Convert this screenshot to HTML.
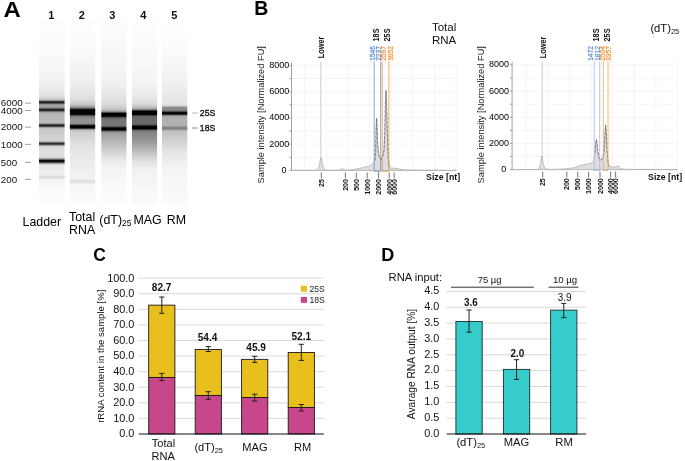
<!DOCTYPE html>
<html><head><meta charset="utf-8"><title>Figure</title>
<style>
html,body{margin:0;padding:0;background:#fff;}
body{width:685px;height:461px;overflow:hidden;}
svg{display:block;font-family:"Liberation Sans", Arial, sans-serif;}
</style></head><body>
<svg width="685" height="461" viewBox="0 0 685 461">
<defs>
<filter id="soft" x="-10%" y="-2%" width="120%" height="104%"><feGaussianBlur stdDeviation="0.45"/></filter>
<linearGradient id="lg0" gradientUnits="userSpaceOnUse" x1="0" y1="18.0" x2="0" y2="204.0"><stop offset="0.00%" stop-color="rgb(254,254,254)"/><stop offset="17.34%" stop-color="rgb(251,251,251)"/><stop offset="34.01%" stop-color="rgb(242,242,242)"/><stop offset="41.53%" stop-color="rgb(226,226,226)"/><stop offset="43.28%" stop-color="rgb(210,210,210)"/><stop offset="43.68%" stop-color="rgb(201,201,201)"/><stop offset="43.95%" stop-color="rgb(187,187,187)"/><stop offset="44.09%" stop-color="rgb(177,177,177)"/><stop offset="44.22%" stop-color="rgb(163,163,163)"/><stop offset="44.35%" stop-color="rgb(146,146,146)"/><stop offset="44.62%" stop-color="rgb(105,105,105)"/><stop offset="44.89%" stop-color="rgb(63,63,63)"/><stop offset="45.03%" stop-color="rgb(47,47,47)"/><stop offset="45.16%" stop-color="rgb(35,35,35)"/><stop offset="45.30%" stop-color="rgb(30,30,30)"/><stop offset="45.43%" stop-color="rgb(32,32,32)"/><stop offset="45.56%" stop-color="rgb(40,40,40)"/><stop offset="45.70%" stop-color="rgb(54,54,54)"/><stop offset="46.24%" stop-color="rgb(122,122,122)"/><stop offset="46.37%" stop-color="rgb(136,136,136)"/><stop offset="46.51%" stop-color="rgb(146,146,146)"/><stop offset="46.64%" stop-color="rgb(154,154,154)"/><stop offset="46.91%" stop-color="rgb(161,161,161)"/><stop offset="47.58%" stop-color="rgb(162,162,162)"/><stop offset="47.85%" stop-color="rgb(158,158,158)"/><stop offset="48.12%" stop-color="rgb(148,148,148)"/><stop offset="48.25%" stop-color="rgb(139,139,139)"/><stop offset="48.39%" stop-color="rgb(128,128,128)"/><stop offset="48.66%" stop-color="rgb(97,97,97)"/><stop offset="48.92%" stop-color="rgb(63,63,63)"/><stop offset="49.06%" stop-color="rgb(47,47,47)"/><stop offset="49.19%" stop-color="rgb(35,35,35)"/><stop offset="49.33%" stop-color="rgb(29,29,29)"/><stop offset="49.46%" stop-color="rgb(28,28,28)"/><stop offset="49.60%" stop-color="rgb(34,34,34)"/><stop offset="49.73%" stop-color="rgb(45,45,45)"/><stop offset="49.87%" stop-color="rgb(61,61,61)"/><stop offset="50.27%" stop-color="rgb(116,116,116)"/><stop offset="50.40%" stop-color="rgb(132,132,132)"/><stop offset="50.54%" stop-color="rgb(146,146,146)"/><stop offset="50.67%" stop-color="rgb(157,157,157)"/><stop offset="50.94%" stop-color="rgb(171,171,171)"/><stop offset="51.21%" stop-color="rgb(178,178,178)"/><stop offset="52.02%" stop-color="rgb(182,182,182)"/><stop offset="55.91%" stop-color="rgb(188,188,188)"/><stop offset="56.18%" stop-color="rgb(184,184,184)"/><stop offset="56.45%" stop-color="rgb(173,173,173)"/><stop offset="56.59%" stop-color="rgb(164,164,164)"/><stop offset="56.72%" stop-color="rgb(151,151,151)"/><stop offset="56.85%" stop-color="rgb(136,136,136)"/><stop offset="57.12%" stop-color="rgb(97,97,97)"/><stop offset="57.39%" stop-color="rgb(57,57,57)"/><stop offset="57.53%" stop-color="rgb(41,41,41)"/><stop offset="57.66%" stop-color="rgb(31,31,31)"/><stop offset="57.80%" stop-color="rgb(28,28,28)"/><stop offset="57.93%" stop-color="rgb(31,31,31)"/><stop offset="58.06%" stop-color="rgb(42,42,42)"/><stop offset="58.20%" stop-color="rgb(58,58,58)"/><stop offset="58.74%" stop-color="rgb(141,141,141)"/><stop offset="58.87%" stop-color="rgb(157,157,157)"/><stop offset="59.01%" stop-color="rgb(171,171,171)"/><stop offset="59.14%" stop-color="rgb(182,182,182)"/><stop offset="59.41%" stop-color="rgb(194,194,194)"/><stop offset="59.81%" stop-color="rgb(201,201,201)"/><stop offset="65.59%" stop-color="rgb(212,212,212)"/><stop offset="65.99%" stop-color="rgb(207,207,207)"/><stop offset="66.13%" stop-color="rgb(202,202,202)"/><stop offset="66.26%" stop-color="rgb(194,194,194)"/><stop offset="66.40%" stop-color="rgb(184,184,184)"/><stop offset="66.53%" stop-color="rgb(170,170,170)"/><stop offset="66.67%" stop-color="rgb(153,153,153)"/><stop offset="67.20%" stop-color="rgb(71,71,71)"/><stop offset="67.34%" stop-color="rgb(55,55,55)"/><stop offset="67.47%" stop-color="rgb(46,46,46)"/><stop offset="67.61%" stop-color="rgb(44,44,44)"/><stop offset="67.74%" stop-color="rgb(49,49,49)"/><stop offset="67.88%" stop-color="rgb(61,61,61)"/><stop offset="68.01%" stop-color="rgb(78,78,78)"/><stop offset="68.41%" stop-color="rgb(143,143,143)"/><stop offset="68.55%" stop-color="rgb(162,162,162)"/><stop offset="68.68%" stop-color="rgb(178,178,178)"/><stop offset="68.82%" stop-color="rgb(191,191,191)"/><stop offset="68.95%" stop-color="rgb(201,201,201)"/><stop offset="69.22%" stop-color="rgb(213,213,213)"/><stop offset="69.62%" stop-color="rgb(219,219,219)"/><stop offset="72.98%" stop-color="rgb(223,223,223)"/><stop offset="74.33%" stop-color="rgb(222,222,222)"/><stop offset="74.73%" stop-color="rgb(217,217,217)"/><stop offset="75.00%" stop-color="rgb(209,209,209)"/><stop offset="75.27%" stop-color="rgb(194,194,194)"/><stop offset="75.40%" stop-color="rgb(183,183,183)"/><stop offset="75.54%" stop-color="rgb(170,170,170)"/><stop offset="75.67%" stop-color="rgb(154,154,154)"/><stop offset="75.94%" stop-color="rgb(115,115,115)"/><stop offset="76.34%" stop-color="rgb(51,51,51)"/><stop offset="76.48%" stop-color="rgb(32,32,32)"/><stop offset="76.61%" stop-color="rgb(17,17,17)"/><stop offset="76.75%" stop-color="rgb(6,6,6)"/><stop offset="76.88%" stop-color="rgb(0,0,0)"/><stop offset="77.02%" stop-color="rgb(1,1,1)"/><stop offset="77.15%" stop-color="rgb(8,8,8)"/><stop offset="77.28%" stop-color="rgb(19,19,19)"/><stop offset="77.42%" stop-color="rgb(36,36,36)"/><stop offset="77.69%" stop-color="rgb(78,78,78)"/><stop offset="78.09%" stop-color="rgb(144,144,144)"/><stop offset="78.23%" stop-color="rgb(163,163,163)"/><stop offset="78.36%" stop-color="rgb(180,180,180)"/><stop offset="78.49%" stop-color="rgb(194,194,194)"/><stop offset="78.63%" stop-color="rgb(205,205,205)"/><stop offset="78.90%" stop-color="rgb(220,220,220)"/><stop offset="79.17%" stop-color="rgb(229,229,229)"/><stop offset="79.70%" stop-color="rgb(235,235,235)"/><stop offset="84.01%" stop-color="rgb(239,239,239)"/><stop offset="84.54%" stop-color="rgb(235,235,235)"/><stop offset="85.35%" stop-color="rgb(220,220,220)"/><stop offset="85.75%" stop-color="rgb(219,219,219)"/><stop offset="86.83%" stop-color="rgb(241,241,241)"/><stop offset="87.63%" stop-color="rgb(245,245,245)"/><stop offset="91.67%" stop-color="rgb(250,250,250)"/><stop offset="100.00%" stop-color="rgb(251,251,251)"/></linearGradient><linearGradient id="lg1" gradientUnits="userSpaceOnUse" x1="0" y1="18.0" x2="0" y2="204.0"><stop offset="0.00%" stop-color="rgb(254,254,254)"/><stop offset="15.59%" stop-color="rgb(251,251,251)"/><stop offset="34.81%" stop-color="rgb(239,239,239)"/><stop offset="41.94%" stop-color="rgb(227,227,227)"/><stop offset="44.35%" stop-color="rgb(217,217,217)"/><stop offset="46.24%" stop-color="rgb(201,201,201)"/><stop offset="47.18%" stop-color="rgb(180,180,180)"/><stop offset="47.58%" stop-color="rgb(166,166,166)"/><stop offset="47.98%" stop-color="rgb(145,145,145)"/><stop offset="48.25%" stop-color="rgb(125,125,125)"/><stop offset="48.52%" stop-color="rgb(100,100,100)"/><stop offset="48.79%" stop-color="rgb(70,70,70)"/><stop offset="49.33%" stop-color="rgb(0,0,0)"/><stop offset="51.75%" stop-color="rgb(0,0,0)"/><stop offset="52.15%" stop-color="rgb(50,50,50)"/><stop offset="52.42%" stop-color="rgb(79,79,79)"/><stop offset="52.69%" stop-color="rgb(101,101,101)"/><stop offset="52.96%" stop-color="rgb(117,117,117)"/><stop offset="53.36%" stop-color="rgb(132,132,132)"/><stop offset="53.90%" stop-color="rgb(142,142,142)"/><stop offset="55.11%" stop-color="rgb(147,147,147)"/><stop offset="56.32%" stop-color="rgb(147,147,147)"/><stop offset="56.59%" stop-color="rgb(143,143,143)"/><stop offset="56.85%" stop-color="rgb(133,133,133)"/><stop offset="56.99%" stop-color="rgb(124,124,124)"/><stop offset="57.12%" stop-color="rgb(112,112,112)"/><stop offset="57.26%" stop-color="rgb(97,97,97)"/><stop offset="57.39%" stop-color="rgb(78,78,78)"/><stop offset="57.66%" stop-color="rgb(35,35,35)"/><stop offset="57.80%" stop-color="rgb(11,11,11)"/><stop offset="57.93%" stop-color="rgb(0,0,0)"/><stop offset="59.14%" stop-color="rgb(1,1,1)"/><stop offset="59.54%" stop-color="rgb(85,85,85)"/><stop offset="59.68%" stop-color="rgb(111,111,111)"/><stop offset="59.81%" stop-color="rgb(132,132,132)"/><stop offset="59.95%" stop-color="rgb(151,151,151)"/><stop offset="60.08%" stop-color="rgb(165,165,165)"/><stop offset="60.22%" stop-color="rgb(176,176,176)"/><stop offset="60.48%" stop-color="rgb(191,191,191)"/><stop offset="60.89%" stop-color="rgb(201,201,201)"/><stop offset="61.96%" stop-color="rgb(208,208,208)"/><stop offset="66.80%" stop-color="rgb(222,222,222)"/><stop offset="73.79%" stop-color="rgb(233,233,233)"/><stop offset="86.02%" stop-color="rgb(242,242,242)"/><stop offset="86.69%" stop-color="rgb(238,238,238)"/><stop offset="87.77%" stop-color="rgb(221,221,221)"/><stop offset="88.17%" stop-color="rgb(221,221,221)"/><stop offset="89.25%" stop-color="rgb(242,242,242)"/><stop offset="90.05%" stop-color="rgb(247,247,247)"/><stop offset="100.00%" stop-color="rgb(251,251,251)"/></linearGradient><linearGradient id="lg2" gradientUnits="userSpaceOnUse" x1="0" y1="18.0" x2="0" y2="204.0"><stop offset="0.00%" stop-color="rgb(253,253,253)"/><stop offset="13.44%" stop-color="rgb(249,249,249)"/><stop offset="30.24%" stop-color="rgb(244,244,244)"/><stop offset="37.77%" stop-color="rgb(237,237,237)"/><stop offset="44.49%" stop-color="rgb(223,223,223)"/><stop offset="46.10%" stop-color="rgb(218,218,218)"/><stop offset="48.52%" stop-color="rgb(202,202,202)"/><stop offset="49.46%" stop-color="rgb(187,187,187)"/><stop offset="49.87%" stop-color="rgb(174,174,174)"/><stop offset="50.00%" stop-color="rgb(167,167,167)"/><stop offset="50.27%" stop-color="rgb(146,146,146)"/><stop offset="50.54%" stop-color="rgb(116,116,116)"/><stop offset="50.81%" stop-color="rgb(77,77,77)"/><stop offset="51.21%" stop-color="rgb(10,10,10)"/><stop offset="51.34%" stop-color="rgb(0,0,0)"/><stop offset="52.82%" stop-color="rgb(1,1,1)"/><stop offset="53.09%" stop-color="rgb(36,36,36)"/><stop offset="53.36%" stop-color="rgb(65,65,65)"/><stop offset="53.63%" stop-color="rgb(85,85,85)"/><stop offset="54.03%" stop-color="rgb(103,103,103)"/><stop offset="54.44%" stop-color="rgb(112,112,112)"/><stop offset="55.24%" stop-color="rgb(117,117,117)"/><stop offset="57.26%" stop-color="rgb(118,118,118)"/><stop offset="57.80%" stop-color="rgb(114,114,114)"/><stop offset="58.06%" stop-color="rgb(106,106,106)"/><stop offset="58.33%" stop-color="rgb(89,89,89)"/><stop offset="58.47%" stop-color="rgb(77,77,77)"/><stop offset="58.74%" stop-color="rgb(46,46,46)"/><stop offset="59.01%" stop-color="rgb(10,10,10)"/><stop offset="59.14%" stop-color="rgb(0,0,0)"/><stop offset="60.08%" stop-color="rgb(0,0,0)"/><stop offset="60.22%" stop-color="rgb(6,6,6)"/><stop offset="60.62%" stop-color="rgb(67,67,67)"/><stop offset="60.89%" stop-color="rgb(102,102,102)"/><stop offset="61.02%" stop-color="rgb(116,116,116)"/><stop offset="61.29%" stop-color="rgb(136,136,136)"/><stop offset="61.56%" stop-color="rgb(148,148,148)"/><stop offset="61.96%" stop-color="rgb(157,157,157)"/><stop offset="64.78%" stop-color="rgb(174,174,174)"/><stop offset="70.83%" stop-color="rgb(206,206,206)"/><stop offset="74.73%" stop-color="rgb(226,226,226)"/><stop offset="78.09%" stop-color="rgb(238,238,238)"/><stop offset="80.91%" stop-color="rgb(243,243,243)"/><stop offset="91.94%" stop-color="rgb(250,250,250)"/><stop offset="100.00%" stop-color="rgb(251,251,251)"/></linearGradient><linearGradient id="lg3" gradientUnits="userSpaceOnUse" x1="0" y1="18.0" x2="0" y2="204.0"><stop offset="0.00%" stop-color="rgb(254,254,254)"/><stop offset="25.27%" stop-color="rgb(248,248,248)"/><stop offset="35.35%" stop-color="rgb(243,243,243)"/><stop offset="41.94%" stop-color="rgb(234,234,234)"/><stop offset="45.83%" stop-color="rgb(220,220,220)"/><stop offset="47.45%" stop-color="rgb(201,201,201)"/><stop offset="48.25%" stop-color="rgb(184,184,184)"/><stop offset="48.66%" stop-color="rgb(170,170,170)"/><stop offset="48.92%" stop-color="rgb(156,156,156)"/><stop offset="49.19%" stop-color="rgb(132,132,132)"/><stop offset="49.46%" stop-color="rgb(100,100,100)"/><stop offset="49.73%" stop-color="rgb(59,59,59)"/><stop offset="50.00%" stop-color="rgb(14,14,14)"/><stop offset="50.13%" stop-color="rgb(0,0,0)"/><stop offset="51.75%" stop-color="rgb(0,0,0)"/><stop offset="51.88%" stop-color="rgb(4,4,4)"/><stop offset="52.15%" stop-color="rgb(39,39,39)"/><stop offset="52.42%" stop-color="rgb(67,67,67)"/><stop offset="52.69%" stop-color="rgb(86,86,86)"/><stop offset="52.96%" stop-color="rgb(97,97,97)"/><stop offset="53.36%" stop-color="rgb(104,104,104)"/><stop offset="56.45%" stop-color="rgb(105,105,105)"/><stop offset="56.85%" stop-color="rgb(101,101,101)"/><stop offset="57.12%" stop-color="rgb(95,95,95)"/><stop offset="57.39%" stop-color="rgb(82,82,82)"/><stop offset="57.66%" stop-color="rgb(63,63,63)"/><stop offset="57.93%" stop-color="rgb(36,36,36)"/><stop offset="58.20%" stop-color="rgb(4,4,4)"/><stop offset="58.33%" stop-color="rgb(0,0,0)"/><stop offset="59.41%" stop-color="rgb(0,0,0)"/><stop offset="59.54%" stop-color="rgb(4,4,4)"/><stop offset="59.95%" stop-color="rgb(57,57,57)"/><stop offset="60.22%" stop-color="rgb(85,85,85)"/><stop offset="60.48%" stop-color="rgb(105,105,105)"/><stop offset="60.75%" stop-color="rgb(118,118,118)"/><stop offset="61.16%" stop-color="rgb(127,127,127)"/><stop offset="62.23%" stop-color="rgb(134,134,134)"/><stop offset="66.13%" stop-color="rgb(151,151,151)"/><stop offset="72.58%" stop-color="rgb(196,196,196)"/><stop offset="76.88%" stop-color="rgb(224,224,224)"/><stop offset="79.57%" stop-color="rgb(236,236,236)"/><stop offset="82.80%" stop-color="rgb(242,242,242)"/><stop offset="93.41%" stop-color="rgb(248,248,248)"/><stop offset="100.00%" stop-color="rgb(250,250,250)"/></linearGradient><linearGradient id="lg4" gradientUnits="userSpaceOnUse" x1="0" y1="18.0" x2="0" y2="204.0"><stop offset="0.00%" stop-color="rgb(255,255,255)"/><stop offset="16.40%" stop-color="rgb(252,252,252)"/><stop offset="34.27%" stop-color="rgb(241,241,241)"/><stop offset="45.97%" stop-color="rgb(228,228,228)"/><stop offset="46.77%" stop-color="rgb(227,227,227)"/><stop offset="47.58%" stop-color="rgb(182,182,182)"/><stop offset="47.98%" stop-color="rgb(147,147,147)"/><stop offset="48.12%" stop-color="rgb(140,140,140)"/><stop offset="49.19%" stop-color="rgb(136,136,136)"/><stop offset="49.60%" stop-color="rgb(127,127,127)"/><stop offset="49.87%" stop-color="rgb(114,114,114)"/><stop offset="50.13%" stop-color="rgb(92,92,92)"/><stop offset="50.40%" stop-color="rgb(64,64,64)"/><stop offset="50.81%" stop-color="rgb(14,14,14)"/><stop offset="50.94%" stop-color="rgb(0,0,0)"/><stop offset="51.48%" stop-color="rgb(0,0,0)"/><stop offset="51.61%" stop-color="rgb(8,8,8)"/><stop offset="51.75%" stop-color="rgb(27,27,27)"/><stop offset="52.15%" stop-color="rgb(93,93,93)"/><stop offset="52.28%" stop-color="rgb(113,113,113)"/><stop offset="52.42%" stop-color="rgb(129,129,129)"/><stop offset="52.55%" stop-color="rgb(143,143,143)"/><stop offset="52.69%" stop-color="rgb(154,154,154)"/><stop offset="52.96%" stop-color="rgb(167,167,167)"/><stop offset="53.36%" stop-color="rgb(174,174,174)"/><stop offset="55.11%" stop-color="rgb(177,177,177)"/><stop offset="57.39%" stop-color="rgb(176,176,176)"/><stop offset="57.80%" stop-color="rgb(172,172,172)"/><stop offset="58.20%" stop-color="rgb(160,160,160)"/><stop offset="58.87%" stop-color="rgb(131,131,131)"/><stop offset="59.14%" stop-color="rgb(124,124,124)"/><stop offset="59.41%" stop-color="rgb(126,126,126)"/><stop offset="59.68%" stop-color="rgb(136,136,136)"/><stop offset="60.35%" stop-color="rgb(173,173,173)"/><stop offset="60.75%" stop-color="rgb(188,188,188)"/><stop offset="61.29%" stop-color="rgb(194,194,194)"/><stop offset="67.34%" stop-color="rgb(213,213,213)"/><stop offset="71.77%" stop-color="rgb(229,229,229)"/><stop offset="78.09%" stop-color="rgb(240,240,240)"/><stop offset="84.81%" stop-color="rgb(246,246,246)"/><stop offset="100.00%" stop-color="rgb(250,250,250)"/></linearGradient>
</defs>
<rect width="685" height="461" fill="#fff"/>
<rect x="39.0" y="18.0" width="25.60" height="186.0" fill="url(#lg0)" filter="url(#soft)"/><rect x="69.9" y="18.0" width="25.30" height="186.0" fill="url(#lg1)" filter="url(#soft)"/><rect x="101.3" y="18.0" width="25.20" height="186.0" fill="url(#lg2)" filter="url(#soft)"/><rect x="132.0" y="18.0" width="25.10" height="186.0" fill="url(#lg3)" filter="url(#soft)"/><rect x="162.0" y="18.0" width="25.30" height="186.0" fill="url(#lg4)" filter="url(#soft)"/>
<text transform="translate(3.6,16.7) scale(1.09,1)" font-size="22" font-weight="bold" fill="#000">A</text><text x="51.2" y="18.8" font-size="11" text-anchor="middle" font-weight="bold" fill="#111" >1</text><text x="81.9" y="18.8" font-size="11" text-anchor="middle" font-weight="bold" fill="#111" >2</text><text x="112.2" y="18.8" font-size="11" text-anchor="middle" font-weight="bold" fill="#111" >3</text><text x="143.2" y="18.8" font-size="11" text-anchor="middle" font-weight="bold" fill="#111" >4</text><text x="174.4" y="18.8" font-size="11" text-anchor="middle" font-weight="bold" fill="#111" >5</text><text x="0.8" y="106.2" font-size="9.5" text-anchor="start" font-weight="normal" fill="#111" textLength="21.9" lengthAdjust="spacingAndGlyphs">6000</text><line x1="25.2" x2="31.2" y1="103.2" y2="103.2" stroke="#999" stroke-width="0.9"/><text x="0.8" y="114.4" font-size="9.5" text-anchor="start" font-weight="normal" fill="#111" textLength="21.9" lengthAdjust="spacingAndGlyphs">4000</text><line x1="25.2" x2="31.2" y1="110.5" y2="110.5" stroke="#999" stroke-width="0.9"/><text x="0.8" y="130.4" font-size="9.5" text-anchor="start" font-weight="normal" fill="#111" textLength="21.9" lengthAdjust="spacingAndGlyphs">2000</text><line x1="25.2" x2="31.2" y1="127.2" y2="127.2" stroke="#999" stroke-width="0.9"/><text x="0.8" y="148.2" font-size="9.5" text-anchor="start" font-weight="normal" fill="#111" textLength="21.9" lengthAdjust="spacingAndGlyphs">1000</text><line x1="25.2" x2="31.2" y1="144.4" y2="144.4" stroke="#999" stroke-width="0.9"/><text x="0.8" y="165.9" font-size="9.5" text-anchor="start" font-weight="normal" fill="#111" textLength="16.3" lengthAdjust="spacingAndGlyphs">500</text><line x1="25.2" x2="31.2" y1="162.4" y2="162.4" stroke="#999" stroke-width="0.9"/><text x="0.8" y="182.7" font-size="9.5" text-anchor="start" font-weight="normal" fill="#111" textLength="16.3" lengthAdjust="spacingAndGlyphs">200</text><line x1="25.2" x2="31.2" y1="179.4" y2="179.4" stroke="#999" stroke-width="0.9"/><line x1="192" x2="197.8" y1="113" y2="113" stroke="#b4b4b4" stroke-width="1"/><text x="199.8" y="116.3" font-size="9.6" text-anchor="start" font-weight="normal" fill="#111" stroke="#111" stroke-width="0.35" textLength="15.5" lengthAdjust="spacingAndGlyphs">25S</text><line x1="192" x2="197.8" y1="128" y2="128" stroke="#8c8c8c" stroke-width="1"/><text x="199.8" y="131.3" font-size="9.6" text-anchor="start" font-weight="normal" fill="#111" stroke="#111" stroke-width="0.35" textLength="15.5" lengthAdjust="spacingAndGlyphs">18S</text><text x="22.5" y="226.3" font-size="12.4" text-anchor="start" font-weight="normal" fill="#000" >Ladder</text><text x="69" y="220.8" font-size="12.4" text-anchor="start" font-weight="normal" fill="#000" >Total</text><text x="69" y="234.2" font-size="12.4" text-anchor="start" font-weight="normal" fill="#000" >RNA</text><text x="99.3" y="224.4" font-size="12.4">(dT)<tspan font-size="8.5" dy="2">25</tspan></text><text x="133.4" y="224.4" font-size="12.4" text-anchor="start" font-weight="normal" fill="#000" >MAG</text><text x="166.7" y="224.4" font-size="12.4" text-anchor="start" font-weight="normal" fill="#000" >RM</text>
<text x="254.3" y="15" font-size="19.5" text-anchor="start" font-weight="bold" fill="#000" >B</text><line x1="291.5" x2="456.5" y1="157.26" y2="157.26" stroke="#f2f2f2" stroke-width="0.8"/><line x1="291.5" x2="456.5" y1="144.12" y2="144.12" stroke="#f2f2f2" stroke-width="0.8"/><line x1="291.5" x2="456.5" y1="130.99" y2="130.99" stroke="#f2f2f2" stroke-width="0.8"/><line x1="291.5" x2="456.5" y1="117.85" y2="117.85" stroke="#f2f2f2" stroke-width="0.8"/><line x1="291.5" x2="456.5" y1="104.71" y2="104.71" stroke="#f2f2f2" stroke-width="0.8"/><line x1="291.5" x2="456.5" y1="91.58" y2="91.58" stroke="#f2f2f2" stroke-width="0.8"/><line x1="291.5" x2="456.5" y1="78.44" y2="78.44" stroke="#f2f2f2" stroke-width="0.8"/><line x1="291.5" x2="456.5" y1="65.30" y2="65.30" stroke="#f2f2f2" stroke-width="0.8"/><line x1="304.60" x2="304.60" y1="62.30" y2="170.40" stroke="#f2f2f2" stroke-width="0.8"/><line x1="326.25" x2="326.25" y1="62.30" y2="170.40" stroke="#f2f2f2" stroke-width="0.8"/><line x1="347.90" x2="347.90" y1="62.30" y2="170.40" stroke="#f2f2f2" stroke-width="0.8"/><line x1="369.55" x2="369.55" y1="62.30" y2="170.40" stroke="#f2f2f2" stroke-width="0.8"/><line x1="391.20" x2="391.20" y1="62.30" y2="170.40" stroke="#f2f2f2" stroke-width="0.8"/><line x1="412.85" x2="412.85" y1="62.30" y2="170.40" stroke="#f2f2f2" stroke-width="0.8"/><line x1="434.50" x2="434.50" y1="62.30" y2="170.40" stroke="#f2f2f2" stroke-width="0.8"/><line x1="456.15" x2="456.15" y1="62.30" y2="170.40" stroke="#f2f2f2" stroke-width="0.8"/><line x1="320.8" x2="320.8" y1="61.80" y2="170.40" stroke="#d4d4d4" stroke-width="1.2"/><polygon points="291.5,170.4 291.50,170.40 316.00,170.30 318.30,168.50 319.60,164.00 320.40,159.00 321.00,157.70 321.70,159.00 322.60,164.50 324.00,168.70 326.00,170.20 340.00,170.10 341.40,169.00 342.30,168.10 343.40,169.50 345.00,170.20 350.00,169.90 355.00,169.30 361.00,167.90 368.00,166.50 371.00,165.20 373.00,163.60 374.80,160.50 375.60,152.00 376.10,130.00 376.60,118.00 377.10,128.00 377.70,145.00 378.60,155.00 380.00,158.50 381.00,159.50 382.00,158.00 383.00,155.50 384.00,150.00 384.80,132.00 385.50,102.00 386.00,90.50 386.50,102.00 387.40,135.00 388.30,158.00 389.30,166.80 391.00,168.00 396.00,168.30 400.00,169.20 405.00,170.00 456.00,170.40 456,170.4" fill="#dedede" stroke="none"/><polyline points="291.50,170.40 316.00,170.30 318.30,168.50 319.60,164.00 320.40,159.00 321.00,157.70 321.70,159.00 322.60,164.50 324.00,168.70 326.00,170.20 340.00,170.10 341.40,169.00 342.30,168.10 343.40,169.50 345.00,170.20 350.00,169.90 355.00,169.30 361.00,167.90 368.00,166.50 371.00,165.20 373.00,163.60 374.80,160.50 375.60,152.00 376.10,130.00 376.60,118.00 377.10,128.00 377.70,145.00 378.60,155.00 380.00,158.50 381.00,159.50 382.00,158.00 383.00,155.50 384.00,150.00 384.80,132.00 385.50,102.00 386.00,90.50 386.50,102.00 387.40,135.00 388.30,158.00 389.30,166.80 391.00,168.00 396.00,168.30 400.00,169.20 405.00,170.00 456.00,170.40" fill="none" stroke="#9a9a9a" stroke-width="0.55" stroke-linejoin="round"/><polyline points="374.80,160.50 375.60,152.00 376.10,130.00 376.60,118.00 377.10,128.00 377.70,145.00 378.60,155.00 380.00,158.50 381.00,159.50 382.00,158.00 383.00,155.50 384.00,150.00 384.80,132.00 385.50,102.00 386.00,90.50 386.50,102.00 387.40,135.00 388.30,158.00 389.30,166.80" fill="none" stroke="#5a5a5a" stroke-width="0.65" stroke-dasharray="3,1.4" stroke-linejoin="round"/><path d="M374.2,61.80 V171.40 H380.7 V61.80" fill="none" stroke="#5b86d6" stroke-width="0.75"/><path d="M382.2,61.80 V171.40 H388.9 V61.80" fill="none" stroke="#f28c28" stroke-width="0.75"/><line x1="291.5" x2="291.5" y1="62.30" y2="170.40" stroke="#8a8a8a" stroke-width="0.8"/><line x1="291.5" x2="456.5" y1="170.40" y2="170.40" stroke="#b0b0b0" stroke-width="0.9"/><line x1="289.5" x2="291.5" y1="170.40" y2="170.40" stroke="#777" stroke-width="0.7"/><line x1="289.5" x2="291.5" y1="157.26" y2="157.26" stroke="#777" stroke-width="0.7"/><line x1="289.5" x2="291.5" y1="144.12" y2="144.12" stroke="#777" stroke-width="0.7"/><line x1="289.5" x2="291.5" y1="130.99" y2="130.99" stroke="#777" stroke-width="0.7"/><line x1="289.5" x2="291.5" y1="117.85" y2="117.85" stroke="#777" stroke-width="0.7"/><line x1="289.5" x2="291.5" y1="104.71" y2="104.71" stroke="#777" stroke-width="0.7"/><line x1="289.5" x2="291.5" y1="91.58" y2="91.58" stroke="#777" stroke-width="0.7"/><line x1="289.5" x2="291.5" y1="78.44" y2="78.44" stroke="#777" stroke-width="0.7"/><line x1="289.5" x2="291.5" y1="65.30" y2="65.30" stroke="#777" stroke-width="0.7"/><text x="286.5" y="172.9" font-size="9.1" text-anchor="end" font-weight="normal" fill="#000" textLength="5.0" lengthAdjust="spacingAndGlyphs">0</text><text x="289.3" y="146.625" font-size="9.1" text-anchor="end" font-weight="normal" fill="#000" textLength="20.1" lengthAdjust="spacingAndGlyphs">2000</text><text x="289.3" y="120.35" font-size="9.1" text-anchor="end" font-weight="normal" fill="#000" textLength="20.1" lengthAdjust="spacingAndGlyphs">4000</text><text x="289.3" y="94.075" font-size="9.1" text-anchor="end" font-weight="normal" fill="#000" textLength="20.1" lengthAdjust="spacingAndGlyphs">6000</text><text x="289.3" y="67.8" font-size="9.1" text-anchor="end" font-weight="normal" fill="#000" textLength="20.1" lengthAdjust="spacingAndGlyphs">8000</text><line x1="321.30" x2="321.30" y1="172.50" y2="178.30" stroke="#444" stroke-width="0.75"/><text transform="translate(323.90,179.00) rotate(-90)" font-size="7.5" font-weight="bold" text-anchor="end" fill="#111" textLength="7.90" lengthAdjust="spacingAndGlyphs">25</text><line x1="345.40" x2="345.40" y1="172.50" y2="178.30" stroke="#444" stroke-width="0.75"/><text transform="translate(348.00,179.00) rotate(-90)" font-size="7.5" font-weight="bold" text-anchor="end" fill="#111" textLength="11.85" lengthAdjust="spacingAndGlyphs">200</text><line x1="356.30" x2="356.30" y1="172.50" y2="178.30" stroke="#444" stroke-width="0.75"/><text transform="translate(358.90,179.00) rotate(-90)" font-size="7.5" font-weight="bold" text-anchor="end" fill="#111" textLength="11.85" lengthAdjust="spacingAndGlyphs">500</text><line x1="367.20" x2="367.20" y1="172.50" y2="178.30" stroke="#444" stroke-width="0.75"/><text transform="translate(369.80,179.00) rotate(-90)" font-size="7.5" font-weight="bold" text-anchor="end" fill="#111" textLength="15.80" lengthAdjust="spacingAndGlyphs">1000</text><line x1="378.60" x2="378.60" y1="172.50" y2="178.30" stroke="#444" stroke-width="0.75"/><text transform="translate(381.20,179.00) rotate(-90)" font-size="7.5" font-weight="bold" text-anchor="end" fill="#111" textLength="15.80" lengthAdjust="spacingAndGlyphs">2000</text><line x1="389.20" x2="389.20" y1="172.50" y2="178.30" stroke="#444" stroke-width="0.75"/><text transform="translate(391.80,179.00) rotate(-90)" font-size="7.5" font-weight="bold" text-anchor="end" fill="#111" textLength="15.80" lengthAdjust="spacingAndGlyphs">4000</text><line x1="394.20" x2="394.20" y1="172.50" y2="178.30" stroke="#444" stroke-width="0.75"/><text transform="translate(396.80,179.00) rotate(-90)" font-size="7.5" font-weight="bold" text-anchor="end" fill="#111" textLength="15.80" lengthAdjust="spacingAndGlyphs">6000</text><text x="426.1" y="180.0" font-size="9.8" text-anchor="start" font-weight="bold" fill="#111" textLength="34" lengthAdjust="spacingAndGlyphs">Size [nt]</text><text transform="translate(263.70,114.75) rotate(-90)" font-size="9.25" text-anchor="middle" fill="#222">Sample intensity [Normalized FU]</text><text transform="translate(324.10,58.3) rotate(-90)" font-size="8.4" font-weight="bold" fill="#111" textLength="21.7" lengthAdjust="spacingAndGlyphs">Lower</text><text transform="translate(375.00,60.8) rotate(-90)" font-size="7.2" fill="#4a7fd4" stroke="#4a7fd4" stroke-width="0.18" textLength="14.6" lengthAdjust="spacingAndGlyphs">1546</text><text transform="translate(380.80,60.8) rotate(-90)" font-size="7.2" fill="#4a7fd4" stroke="#4a7fd4" stroke-width="0.18" textLength="14.6" lengthAdjust="spacingAndGlyphs">2237</text><text transform="translate(386.30,60.8) rotate(-90)" font-size="7.2" fill="#f08a24" stroke="#f08a24" stroke-width="0.18" textLength="14.6" lengthAdjust="spacingAndGlyphs">2597</text><text transform="translate(393.00,60.8) rotate(-90)" font-size="7.2" fill="#f08a24" stroke="#f08a24" stroke-width="0.18" textLength="14.6" lengthAdjust="spacingAndGlyphs">3952</text><text transform="translate(378.90,41.5) rotate(-90)" font-size="9" font-weight="bold" fill="#111" textLength="13" lengthAdjust="spacingAndGlyphs">18S</text><text transform="translate(390.20,41.5) rotate(-90)" font-size="9" font-weight="bold" fill="#111" textLength="13" lengthAdjust="spacingAndGlyphs">25S</text><text x="431.9" y="31.2" font-size="11.5" text-anchor="start" font-weight="normal" fill="#111" >Total</text><text x="432" y="43.7" font-size="11.5" text-anchor="start" font-weight="normal" fill="#111" >RNA</text><line x1="512.1" x2="677.5" y1="156.51" y2="156.51" stroke="#f2f2f2" stroke-width="0.8"/><line x1="512.1" x2="677.5" y1="143.43" y2="143.43" stroke="#f2f2f2" stroke-width="0.8"/><line x1="512.1" x2="677.5" y1="130.34" y2="130.34" stroke="#f2f2f2" stroke-width="0.8"/><line x1="512.1" x2="677.5" y1="117.25" y2="117.25" stroke="#f2f2f2" stroke-width="0.8"/><line x1="512.1" x2="677.5" y1="104.16" y2="104.16" stroke="#f2f2f2" stroke-width="0.8"/><line x1="512.1" x2="677.5" y1="91.08" y2="91.08" stroke="#f2f2f2" stroke-width="0.8"/><line x1="512.1" x2="677.5" y1="77.99" y2="77.99" stroke="#f2f2f2" stroke-width="0.8"/><line x1="512.1" x2="677.5" y1="64.90" y2="64.90" stroke="#f2f2f2" stroke-width="0.8"/><line x1="526.00" x2="526.00" y1="61.90" y2="169.60" stroke="#f2f2f2" stroke-width="0.8"/><line x1="547.65" x2="547.65" y1="61.90" y2="169.60" stroke="#f2f2f2" stroke-width="0.8"/><line x1="569.30" x2="569.30" y1="61.90" y2="169.60" stroke="#f2f2f2" stroke-width="0.8"/><line x1="590.95" x2="590.95" y1="61.90" y2="169.60" stroke="#f2f2f2" stroke-width="0.8"/><line x1="612.60" x2="612.60" y1="61.90" y2="169.60" stroke="#f2f2f2" stroke-width="0.8"/><line x1="634.25" x2="634.25" y1="61.90" y2="169.60" stroke="#f2f2f2" stroke-width="0.8"/><line x1="655.90" x2="655.90" y1="61.90" y2="169.60" stroke="#f2f2f2" stroke-width="0.8"/><line x1="677.55" x2="677.55" y1="61.90" y2="169.60" stroke="#f2f2f2" stroke-width="0.8"/><line x1="542.2" x2="542.2" y1="61.40" y2="169.60" stroke="#d4d4d4" stroke-width="1.2"/><polygon points="512.1,169.6 512.10,169.60 537.50,169.50 539.30,168.50 540.50,163.50 541.30,158.00 541.80,156.00 542.40,158.00 543.30,163.50 544.60,168.20 546.00,169.00 549.00,169.20 551.00,169.60 556.00,169.20 562.00,169.00 569.40,168.40 575.20,167.50 579.70,165.40 585.00,164.60 590.30,163.10 592.60,162.30 594.00,160.50 595.00,153.00 595.80,143.00 596.40,139.60 596.90,142.00 597.70,150.00 598.70,157.00 599.80,160.00 601.50,159.60 603.00,157.50 604.00,151.00 605.00,134.00 605.60,125.00 606.20,133.00 607.20,152.00 608.10,163.00 608.80,166.00 611.00,166.80 614.00,166.90 616.50,166.30 618.40,166.00 619.60,167.40 621.00,168.80 626.00,169.30 677.00,169.60 677,169.6" fill="#dedede" stroke="none"/><polyline points="512.10,169.60 537.50,169.50 539.30,168.50 540.50,163.50 541.30,158.00 541.80,156.00 542.40,158.00 543.30,163.50 544.60,168.20 546.00,169.00 549.00,169.20 551.00,169.60 556.00,169.20 562.00,169.00 569.40,168.40 575.20,167.50 579.70,165.40 585.00,164.60 590.30,163.10 592.60,162.30 594.00,160.50 595.00,153.00 595.80,143.00 596.40,139.60 596.90,142.00 597.70,150.00 598.70,157.00 599.80,160.00 601.50,159.60 603.00,157.50 604.00,151.00 605.00,134.00 605.60,125.00 606.20,133.00 607.20,152.00 608.10,163.00 608.80,166.00 611.00,166.80 614.00,166.90 616.50,166.30 618.40,166.00 619.60,167.40 621.00,168.80 626.00,169.30 677.00,169.60" fill="none" stroke="#9a9a9a" stroke-width="0.55" stroke-linejoin="round"/><polyline points="595.00,153.00 595.80,143.00 596.40,139.60 596.90,142.00 597.70,150.00 598.70,157.00 599.80,160.00 601.50,159.60 603.00,157.50 604.00,151.00 605.00,134.00 605.60,125.00 606.20,133.00 607.20,152.00 608.10,163.00 608.80,166.00" fill="none" stroke="#5a5a5a" stroke-width="0.65" stroke-dasharray="3,1.4" stroke-linejoin="round"/><path d="M594.2,61.40 V170.60 H599.7 V61.40" fill="none" stroke="#9db2ea" stroke-width="0.75"/><path d="M603.3,61.40 V170.60 H608.0 V61.40" fill="none" stroke="#f5a050" stroke-width="0.75"/><line x1="512.1" x2="512.1" y1="61.90" y2="169.60" stroke="#8a8a8a" stroke-width="0.8"/><line x1="512.1" x2="677.5" y1="169.60" y2="169.60" stroke="#b0b0b0" stroke-width="0.9"/><line x1="510.1" x2="512.1" y1="169.60" y2="169.60" stroke="#777" stroke-width="0.7"/><line x1="510.1" x2="512.1" y1="156.51" y2="156.51" stroke="#777" stroke-width="0.7"/><line x1="510.1" x2="512.1" y1="143.43" y2="143.43" stroke="#777" stroke-width="0.7"/><line x1="510.1" x2="512.1" y1="130.34" y2="130.34" stroke="#777" stroke-width="0.7"/><line x1="510.1" x2="512.1" y1="117.25" y2="117.25" stroke="#777" stroke-width="0.7"/><line x1="510.1" x2="512.1" y1="104.16" y2="104.16" stroke="#777" stroke-width="0.7"/><line x1="510.1" x2="512.1" y1="91.08" y2="91.08" stroke="#777" stroke-width="0.7"/><line x1="510.1" x2="512.1" y1="77.99" y2="77.99" stroke="#777" stroke-width="0.7"/><line x1="510.1" x2="512.1" y1="64.90" y2="64.90" stroke="#777" stroke-width="0.7"/><text x="506.2" y="172.1" font-size="9.1" text-anchor="end" font-weight="normal" fill="#000" textLength="5.0" lengthAdjust="spacingAndGlyphs">0</text><text x="509.0" y="145.925" font-size="9.1" text-anchor="end" font-weight="normal" fill="#000" textLength="20.1" lengthAdjust="spacingAndGlyphs">2000</text><text x="509.0" y="119.75" font-size="9.1" text-anchor="end" font-weight="normal" fill="#000" textLength="20.1" lengthAdjust="spacingAndGlyphs">4000</text><text x="509.0" y="93.575" font-size="9.1" text-anchor="end" font-weight="normal" fill="#000" textLength="20.1" lengthAdjust="spacingAndGlyphs">6000</text><text x="509.0" y="67.4" font-size="9.1" text-anchor="end" font-weight="normal" fill="#000" textLength="20.1" lengthAdjust="spacingAndGlyphs">8000</text><line x1="542.70" x2="542.70" y1="171.70" y2="177.50" stroke="#444" stroke-width="0.75"/><text transform="translate(545.30,178.20) rotate(-90)" font-size="7.5" font-weight="bold" text-anchor="end" fill="#111" textLength="7.90" lengthAdjust="spacingAndGlyphs">25</text><line x1="566.80" x2="566.80" y1="171.70" y2="177.50" stroke="#444" stroke-width="0.75"/><text transform="translate(569.40,178.20) rotate(-90)" font-size="7.5" font-weight="bold" text-anchor="end" fill="#111" textLength="11.85" lengthAdjust="spacingAndGlyphs">200</text><line x1="577.70" x2="577.70" y1="171.70" y2="177.50" stroke="#444" stroke-width="0.75"/><text transform="translate(580.30,178.20) rotate(-90)" font-size="7.5" font-weight="bold" text-anchor="end" fill="#111" textLength="11.85" lengthAdjust="spacingAndGlyphs">500</text><line x1="588.60" x2="588.60" y1="171.70" y2="177.50" stroke="#444" stroke-width="0.75"/><text transform="translate(591.20,178.20) rotate(-90)" font-size="7.5" font-weight="bold" text-anchor="end" fill="#111" textLength="15.80" lengthAdjust="spacingAndGlyphs">1000</text><line x1="600.00" x2="600.00" y1="171.70" y2="177.50" stroke="#444" stroke-width="0.75"/><text transform="translate(602.60,178.20) rotate(-90)" font-size="7.5" font-weight="bold" text-anchor="end" fill="#111" textLength="15.80" lengthAdjust="spacingAndGlyphs">2000</text><line x1="610.60" x2="610.60" y1="171.70" y2="177.50" stroke="#444" stroke-width="0.75"/><text transform="translate(613.20,178.20) rotate(-90)" font-size="7.5" font-weight="bold" text-anchor="end" fill="#111" textLength="15.80" lengthAdjust="spacingAndGlyphs">4000</text><line x1="615.60" x2="615.60" y1="171.70" y2="177.50" stroke="#444" stroke-width="0.75"/><text transform="translate(618.20,178.20) rotate(-90)" font-size="7.5" font-weight="bold" text-anchor="end" fill="#111" textLength="15.80" lengthAdjust="spacingAndGlyphs">6000</text><text x="648.1" y="179.6" font-size="9.8" text-anchor="start" font-weight="bold" fill="#111" textLength="34" lengthAdjust="spacingAndGlyphs">Size [nt]</text><text transform="translate(484.30,114.75) rotate(-90)" font-size="9.25" text-anchor="middle" fill="#222">Sample intensity [Normalized FU]</text><text transform="translate(545.50,58.3) rotate(-90)" font-size="8.4" font-weight="bold" fill="#111" textLength="21.7" lengthAdjust="spacingAndGlyphs">Lower</text><text transform="translate(592.80,60.8) rotate(-90)" font-size="7.2" fill="#4a7fd4" stroke="#4a7fd4" stroke-width="0.18" textLength="14.6" lengthAdjust="spacingAndGlyphs">1472</text><text transform="translate(599.60,60.8) rotate(-90)" font-size="7.2" fill="#4a7fd4" stroke="#4a7fd4" stroke-width="0.18" textLength="14.6" lengthAdjust="spacingAndGlyphs">1812</text><text transform="translate(605.20,60.8) rotate(-90)" font-size="7.2" fill="#f08a24" stroke="#f08a24" stroke-width="0.18" textLength="14.6" lengthAdjust="spacingAndGlyphs">2504</text><text transform="translate(611.00,60.8) rotate(-90)" font-size="7.2" fill="#f08a24" stroke="#f08a24" stroke-width="0.18" textLength="14.6" lengthAdjust="spacingAndGlyphs">3357</text><text transform="translate(598.50,41.5) rotate(-90)" font-size="9" font-weight="bold" fill="#111" textLength="13" lengthAdjust="spacingAndGlyphs">18S</text><text transform="translate(609.60,41.5) rotate(-90)" font-size="9" font-weight="bold" fill="#111" textLength="13" lengthAdjust="spacingAndGlyphs">25S</text><text x="650.4" y="31.9" font-size="11.2" fill="#111">(dT)<tspan font-size="7.5" dy="2">25</tspan></text>
<text x="93.2" y="260.8" font-size="17.5" text-anchor="start" font-weight="bold" fill="#000" >C</text><line x1="138.3" x2="323.8" y1="418.42" y2="418.42" stroke="#d9d9d9" stroke-width="1"/><line x1="138.3" x2="323.8" y1="402.84" y2="402.84" stroke="#d9d9d9" stroke-width="1"/><line x1="138.3" x2="323.8" y1="387.26" y2="387.26" stroke="#d9d9d9" stroke-width="1"/><line x1="138.3" x2="323.8" y1="371.68" y2="371.68" stroke="#d9d9d9" stroke-width="1"/><line x1="138.3" x2="323.8" y1="356.10" y2="356.10" stroke="#d9d9d9" stroke-width="1"/><line x1="138.3" x2="323.8" y1="340.52" y2="340.52" stroke="#d9d9d9" stroke-width="1"/><line x1="138.3" x2="323.8" y1="324.94" y2="324.94" stroke="#d9d9d9" stroke-width="1"/><line x1="138.3" x2="323.8" y1="309.36" y2="309.36" stroke="#d9d9d9" stroke-width="1"/><line x1="138.3" x2="323.8" y1="293.78" y2="293.78" stroke="#d9d9d9" stroke-width="1"/><line x1="138.3" x2="323.8" y1="278.20" y2="278.20" stroke="#d9d9d9" stroke-width="1"/><text x="134.4" y="437.3" font-size="10.9" text-anchor="end" font-weight="normal" fill="#111" >0.0</text><text x="134.4" y="421.72" font-size="10.9" text-anchor="end" font-weight="normal" fill="#111" >10.0</text><text x="134.4" y="406.14" font-size="10.9" text-anchor="end" font-weight="normal" fill="#111" >20.0</text><text x="134.4" y="390.56" font-size="10.9" text-anchor="end" font-weight="normal" fill="#111" >30.0</text><text x="134.4" y="374.98" font-size="10.9" text-anchor="end" font-weight="normal" fill="#111" >40.0</text><text x="134.4" y="359.40000000000003" font-size="10.9" text-anchor="end" font-weight="normal" fill="#111" >50.0</text><text x="134.4" y="343.82" font-size="10.9" text-anchor="end" font-weight="normal" fill="#111" >60.0</text><text x="134.4" y="328.24" font-size="10.9" text-anchor="end" font-weight="normal" fill="#111" >70.0</text><text x="134.4" y="312.66" font-size="10.9" text-anchor="end" font-weight="normal" fill="#111" >80.0</text><text x="134.4" y="297.08" font-size="10.9" text-anchor="end" font-weight="normal" fill="#111" >90.0</text><text x="134.4" y="281.5" font-size="10.9" text-anchor="end" font-weight="normal" fill="#111" >100.0</text><rect x="148.7" y="305.15" width="26.2" height="72.29" fill="#e9bf1d" stroke="#1a1a1a" stroke-width="0.9"/><rect x="148.7" y="377.44" width="26.2" height="56.56" fill="#c8468a" stroke="#1a1a1a" stroke-width="0.9"/><path d="M159.20,297 H164.40 M161.80,297 V313.3 M159.20,313.3 H164.40" stroke="#222" stroke-width="1" fill="none"/><path d="M159.20,373.4 H164.40 M161.80,373.4 V380.7 M159.20,380.7 H164.40" stroke="#222" stroke-width="1" fill="none"/><text x="161.6" y="291.3" font-size="10.1" text-anchor="middle" font-weight="bold" fill="#111" textLength="19.6" lengthAdjust="spacingAndGlyphs">82.7</text><rect x="195.2" y="349.56" width="26.2" height="45.96" fill="#e9bf1d" stroke="#1a1a1a" stroke-width="0.9"/><rect x="195.2" y="395.52" width="26.2" height="38.48" fill="#c8468a" stroke="#1a1a1a" stroke-width="0.9"/><path d="M205.70,346.6 H210.90 M208.30,346.6 V351.5 M205.70,351.5 H210.90" stroke="#222" stroke-width="1" fill="none"/><path d="M205.70,391.7 H210.90 M208.30,391.7 V399.4 M205.70,399.4 H210.90" stroke="#222" stroke-width="1" fill="none"/><text x="207.5" y="340.5" font-size="10.1" text-anchor="middle" font-weight="bold" fill="#111" textLength="19.6" lengthAdjust="spacingAndGlyphs">54.4</text><rect x="241.6" y="359.37" width="26.2" height="38.17" fill="#e9bf1d" stroke="#1a1a1a" stroke-width="0.9"/><rect x="241.6" y="397.54" width="26.2" height="36.46" fill="#c8468a" stroke="#1a1a1a" stroke-width="0.9"/><path d="M252.10,356.3 H257.30 M254.70,356.3 V362.4 M252.10,362.4 H257.30" stroke="#222" stroke-width="1" fill="none"/><path d="M252.10,394.2 H257.30 M254.70,394.2 V401 M252.10,401 H257.30" stroke="#222" stroke-width="1" fill="none"/><text x="256.1" y="351.3" font-size="10.1" text-anchor="middle" font-weight="bold" fill="#111" textLength="19.6" lengthAdjust="spacingAndGlyphs">45.9</text><rect x="288.2" y="352.52" width="26.2" height="55.00" fill="#e9bf1d" stroke="#1a1a1a" stroke-width="0.9"/><rect x="288.2" y="407.51" width="26.2" height="26.49" fill="#c8468a" stroke="#1a1a1a" stroke-width="0.9"/><path d="M298.70,344.3 H303.90 M301.30,344.3 V360.4 M298.70,360.4 H303.90" stroke="#222" stroke-width="1" fill="none"/><path d="M298.70,404.5 H303.90 M301.30,404.5 V411 M298.70,411 H303.90" stroke="#222" stroke-width="1" fill="none"/><text x="301.3" y="340.2" font-size="10.1" text-anchor="middle" font-weight="bold" fill="#111" textLength="19.6" lengthAdjust="spacingAndGlyphs">52.1</text><line x1="138.9" x2="323.8" y1="434" y2="434" stroke="#111" stroke-width="1.1"/><rect x="300.8" y="285.7" width="6.2" height="6" fill="#e9bf1d"/><rect x="300.8" y="297" width="6.2" height="5.8" fill="#c8468a"/><text x="309.4" y="292" font-size="8.6" text-anchor="start" font-weight="normal" fill="#222" >25S</text><text x="309.4" y="303" font-size="8.6" text-anchor="start" font-weight="normal" fill="#222" >18S</text><text transform="translate(104,356.2) rotate(-90)" font-size="9.6" text-anchor="middle" fill="#111">rRNA content in the sample [%]</text><text x="163.4" y="447" font-size="11.1" text-anchor="middle" font-weight="normal" fill="#111" >Total</text><text x="163.2" y="459.6" font-size="11.1" text-anchor="middle" font-weight="normal" fill="#111" >RNA</text><text x="194.4" y="451.2" font-size="11.1" fill="#111">(dT)<tspan font-size="7.4" dy="1.9">25</tspan></text><text x="254.9" y="450.8" font-size="11.1" text-anchor="middle" font-weight="normal" fill="#111" >MAG</text><text x="302.7" y="450.8" font-size="11.1" text-anchor="middle" font-weight="normal" fill="#111" >RM</text>
<text x="381.2" y="260.6" font-size="18" text-anchor="start" font-weight="bold" fill="#000" >D</text><line x1="446.2" x2="586.2" y1="418.16" y2="418.16" stroke="#d9d9d9" stroke-width="1"/><line x1="446.2" x2="586.2" y1="402.32" y2="402.32" stroke="#d9d9d9" stroke-width="1"/><line x1="446.2" x2="586.2" y1="386.48" y2="386.48" stroke="#d9d9d9" stroke-width="1"/><line x1="446.2" x2="586.2" y1="370.64" y2="370.64" stroke="#d9d9d9" stroke-width="1"/><line x1="446.2" x2="586.2" y1="354.80" y2="354.80" stroke="#d9d9d9" stroke-width="1"/><line x1="446.2" x2="586.2" y1="338.96" y2="338.96" stroke="#d9d9d9" stroke-width="1"/><line x1="446.2" x2="586.2" y1="323.12" y2="323.12" stroke="#d9d9d9" stroke-width="1"/><line x1="446.2" x2="586.2" y1="307.28" y2="307.28" stroke="#d9d9d9" stroke-width="1"/><line x1="446.2" x2="586.2" y1="291.44" y2="291.44" stroke="#d9d9d9" stroke-width="1"/><text x="439.4" y="436.8" font-size="10.9" text-anchor="end" font-weight="normal" fill="#111" >0.0</text><text x="439.4" y="420.96000000000004" font-size="10.9" text-anchor="end" font-weight="normal" fill="#111" >0.5</text><text x="439.4" y="405.12" font-size="10.9" text-anchor="end" font-weight="normal" fill="#111" >1.0</text><text x="439.4" y="389.28000000000003" font-size="10.9" text-anchor="end" font-weight="normal" fill="#111" >1.5</text><text x="439.4" y="373.44" font-size="10.9" text-anchor="end" font-weight="normal" fill="#111" >2.0</text><text x="439.4" y="357.6" font-size="10.9" text-anchor="end" font-weight="normal" fill="#111" >2.5</text><text x="439.4" y="341.76000000000005" font-size="10.9" text-anchor="end" font-weight="normal" fill="#111" >3.0</text><text x="439.4" y="325.92" font-size="10.9" text-anchor="end" font-weight="normal" fill="#111" >3.5</text><text x="439.4" y="310.08" font-size="10.9" text-anchor="end" font-weight="normal" fill="#111" >4.0</text><text x="439.4" y="294.24" font-size="10.9" text-anchor="end" font-weight="normal" fill="#111" >4.5</text><rect x="455.9" y="321.54" width="26.3" height="112.46" fill="#35cccb" stroke="#1d2b2b" stroke-width="0.9"/><path d="M466.45,310 H471.65 M469.05,310 V332.2 M466.45,332.2 H471.65" stroke="#222" stroke-width="1" fill="none"/><text x="470.8" y="305.9" font-size="10" text-anchor="middle" font-weight="bold" fill="#111" textLength="13.8" lengthAdjust="spacingAndGlyphs">3.6</text><rect x="503.4" y="369.37" width="26.3" height="64.63" fill="#35cccb" stroke="#1d2b2b" stroke-width="0.9"/><path d="M513.95,359.7 H519.15 M516.55,359.7 V379.4 M513.95,379.4 H519.15" stroke="#222" stroke-width="1" fill="none"/><text x="517.5" y="357.4" font-size="10" text-anchor="middle" font-weight="bold" fill="#111" textLength="13.8" lengthAdjust="spacingAndGlyphs">2.0</text><rect x="550.6" y="310.13" width="26.3" height="123.87" fill="#35cccb" stroke="#1d2b2b" stroke-width="0.9"/><path d="M561.15,303.4 H566.35 M563.75,303.4 V317.6 M561.15,317.6 H566.35" stroke="#222" stroke-width="1" fill="none"/><text x="564.6" y="300.8" font-size="10" text-anchor="middle" font-weight="normal" fill="#111" textLength="13.8" lengthAdjust="spacingAndGlyphs">3.9</text><line x1="446.6" x2="586.2" y1="434" y2="434" stroke="#111" stroke-width="1.1"/><text x="388.6" y="280.8" font-size="11.2" text-anchor="start" font-weight="normal" fill="#111" >RNA input:</text><line x1="451" x2="533.8" y1="287.2" y2="287.2" stroke="#333" stroke-width="1"/><line x1="548.5" x2="578.4" y1="287.2" y2="287.2" stroke="#333" stroke-width="1"/><text x="477.8" y="283" font-size="9.6" text-anchor="start" font-weight="normal" fill="#111" textLength="23.7" lengthAdjust="spacingAndGlyphs">75 µg</text><text x="552.9" y="283" font-size="9.6" text-anchor="start" font-weight="normal" fill="#111" textLength="24.3" lengthAdjust="spacingAndGlyphs">10 µg</text><text transform="translate(414.8,364) rotate(-90)" font-size="10.2" text-anchor="middle" fill="#111">Avarage RNA output [%]</text><text x="456.4" y="446.4" font-size="11.2" fill="#111">(dT)<tspan font-size="7.4" dy="1.9">25</tspan></text><text x="516.4" y="446.4" font-size="11.2" text-anchor="middle" font-weight="normal" fill="#111" >MAG</text><text x="564" y="446.4" font-size="11.2" text-anchor="middle" font-weight="normal" fill="#111" >RM</text>
</svg>
</body></html>
